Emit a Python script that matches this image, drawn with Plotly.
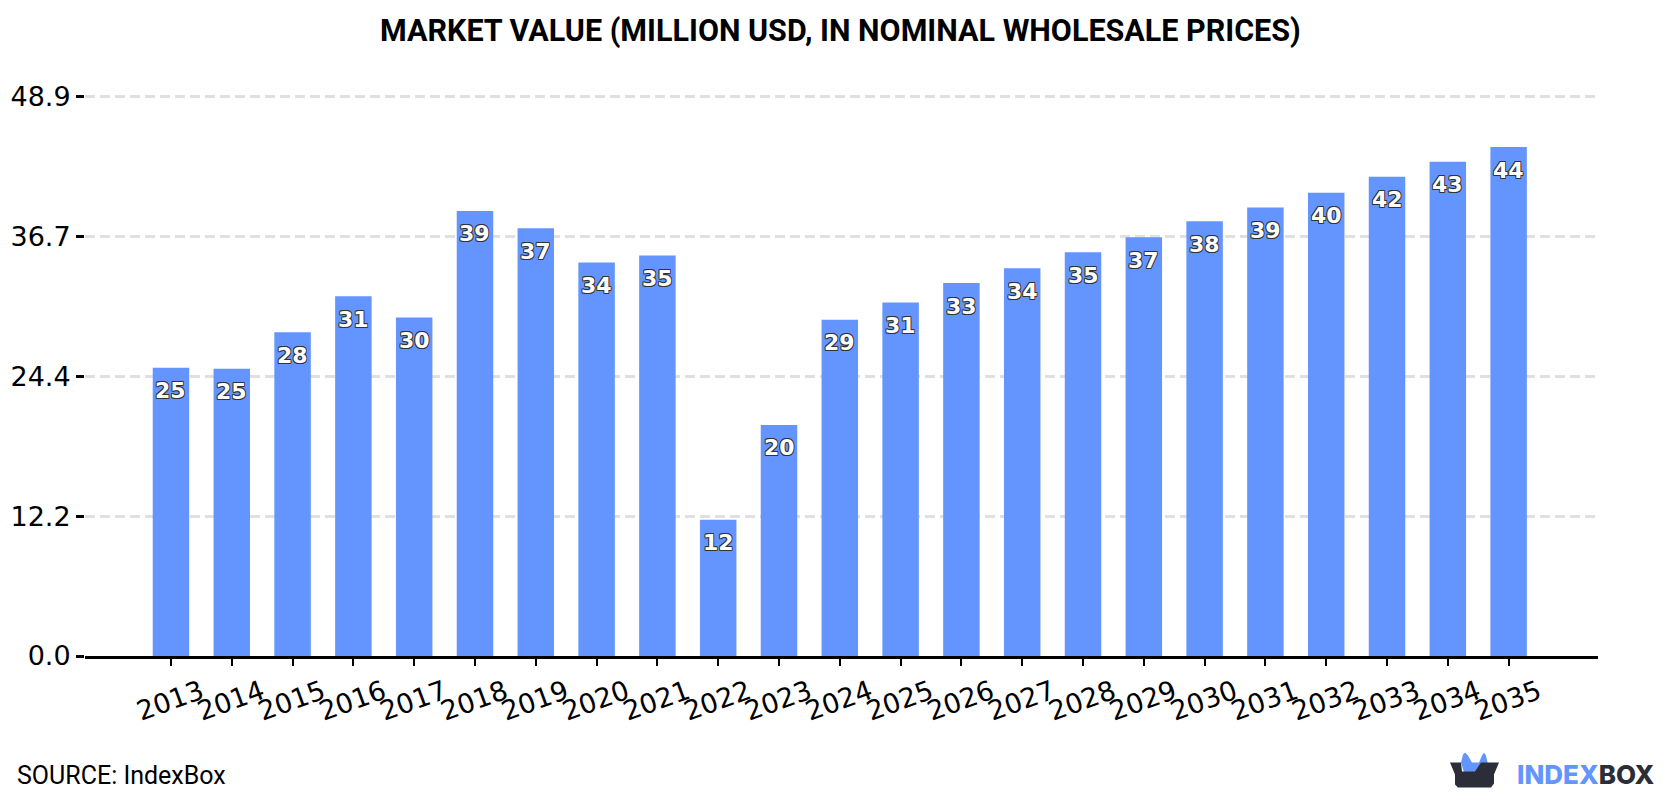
import plotly.graph_objects as go

years = [str(y) for y in range(2013, 2036)]
market_value = [25.2, 25.1, 28.3, 31.45, 29.6, 38.9, 37.4, 34.4, 35.0, 11.9, 20.2, 29.4,
                30.9, 32.6, 33.9, 35.3, 36.6, 38.0, 39.2, 40.49, 41.9, 43.2, 44.49]
y_ticks = [0.0, 12.2, 24.4, 36.7, 48.9]

BLUE = "#6495ff"
DARK = "#2b2d38"
W, H = 1680, 800
PX_PER_UNIT = 11.448
Y_TOP = 50
L, R, B = 85, 82, 143.5
T = H - B - Y_TOP * PX_PER_UNIT

# Outlined white value labels are built from stacked text shadows
OUTLINE = ", ".join(f"{dx}px {dy}px 0.4px #333"
                    for dx, dy in [(.8, 0), (-.8, 0), (0, .8), (0, -.8), (.7, .7), (-.7, -.7), (.7, -.7), (-.7, .7)])

fig = go.Figure(go.Bar(x=years, y=market_value, width=0.6, marker=dict(color=BLUE, line_width=0),
                       hoverinfo="x+y"))

# Digit-only category names read as positions on annotations, so each label uses its index
for i, value in enumerate(market_value):
    fig.add_annotation(xref="x", yref="y", x=i, y=value, yshift=-23, text=f"{value:.0f}", showarrow=False,
                       xanchor="center", yanchor="middle",
                       font=dict(family="DejaVu Sans", size=22, color="white", weight="bold", shadow=OUTLINE))


def px(x, y):
    """Pixel position on the page to paper coordinates."""
    return (x - L) / (W - L - R), 1 - (y - T) / (H - T - B)


def path(points):
    return "M" + "L".join("{:.5f},{:.5f}".format(*px(*p)) for p in points) + "Z"


# Logo: blue crown behind a dark open box
crown = [(1461, 763), (1463, 755), (1465, 753), (1468, 756), (1472, 763), (1479, 763),
         (1482, 756), (1484, 753), (1486, 756), (1488, 765), (1481, 773), (1464, 773)]
box = [(1450, 763), (1461, 763), (1462, 772), (1475, 772), (1481, 763), (1499, 763),
       (1494, 775), (1494, 784), (1491, 788), (1458, 788), (1455, 785), (1455, 775)]
shapes = [dict(type="path", xref="paper", yref="paper", path=path(crown), fillcolor=BLUE, line_width=0, layer="above"),
          dict(type="path", xref="paper", yref="paper", path=path(box), fillcolor=DARK, line_width=0, layer="above")]

fig.add_annotation(xref="paper", yref="paper", x=px(840, 0)[0], y=px(0, 31)[1], showarrow=False,
                   text="<b>MARKET VALUE (MILLION USD, IN NOMINAL WHOLESALE PRICES)</b>",
                   xanchor="center", yanchor="middle",
                   font=dict(family="Roboto", size=30.5, color="black"))
fig.add_annotation(xref="paper", yref="paper", x=px(15, 0)[0], y=px(0, 776)[1], showarrow=False,
                   text="SOURCE: IndexBox", xanchor="left", yanchor="middle",
                   font=dict(family="Roboto", size=25, color="black"))
fig.add_annotation(xref="paper", yref="paper", x=px(1515, 0)[0], y=px(0, 775)[1], showarrow=False,
                   text=f'<span style="color:{BLUE}">INDEX</span><span style="color:{DARK}">BOX</span>',
                   xanchor="left", yanchor="middle",
                   font=dict(family="Inter", size=26, weight=800))

fig.update_layout(
    width=W, height=H, margin=dict(l=L, r=R, t=T, b=B, autoexpand=False),
    paper_bgcolor="white", plot_bgcolor="white", showlegend=False, shapes=shapes,
    xaxis=dict(type="category", range=[-1.414, 23.47], showgrid=False, showline=True, linecolor="black",
               linewidth=3, ticks="outside", ticklen=7, tickwidth=2, tickcolor="black", tickangle=-20,
               ticklabelshift=30,
               tickfont=dict(family="DejaVu Sans", size=27, color="black")),
    yaxis=dict(range=[0, Y_TOP], tickmode="array", tickvals=y_ticks, ticktext=[f"{v:.1f}" for v in y_ticks],
               showgrid=True, gridcolor="#e0e0e0", gridwidth=2.5, griddash="10px,5px", zeroline=False,
               showline=False, ticks="outside", ticklen=8, tickwidth=2.5, tickcolor="black",
               tickfont=dict(family="DejaVu Sans", size=27, color="black")),
)

fig.write_html("out.html")
